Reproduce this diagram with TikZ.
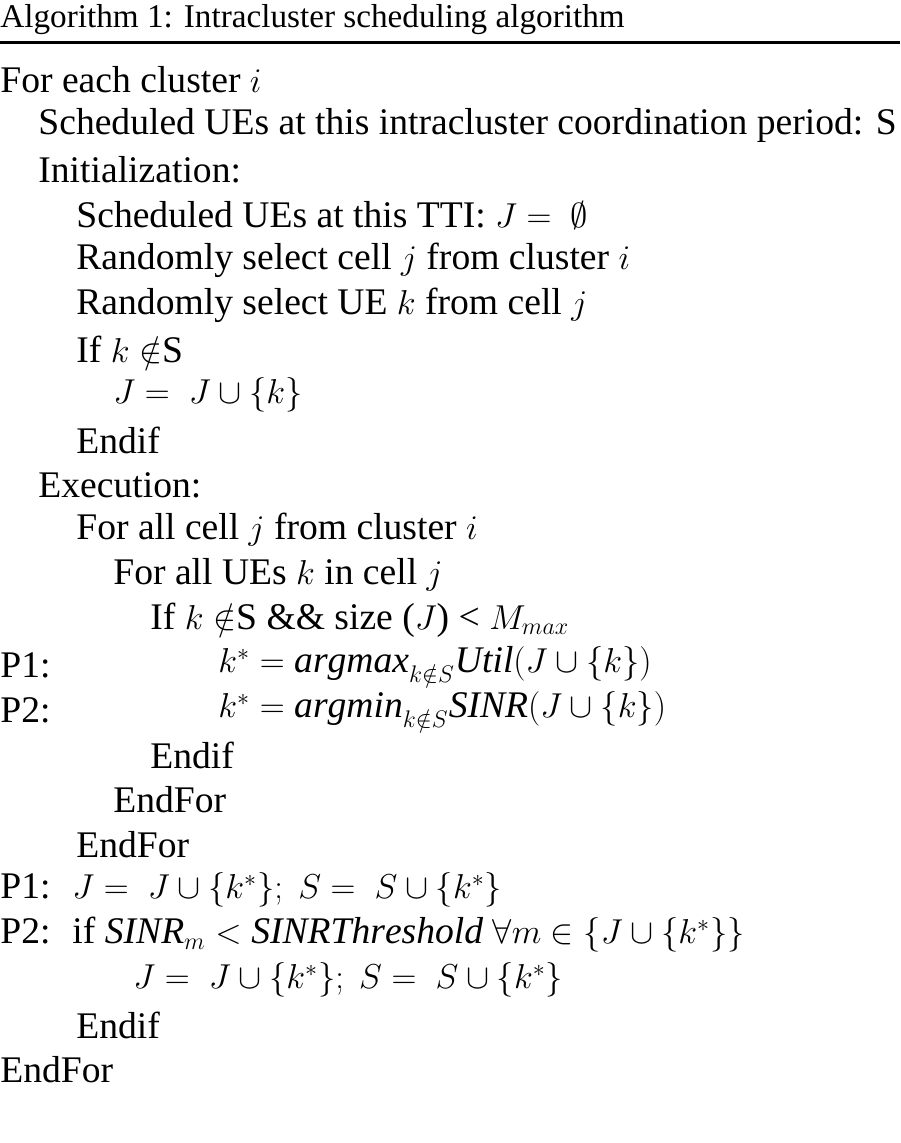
\documentclass[tikz,border=0pt]{standalone}
\usepackage{fontspec}
\setmainfont{Liberation Serif}
\begin{document}
\begin{tikzpicture}[x=0.5pt,y=-0.5pt,
  ln/.style={anchor=west,inner sep=0pt,font=\fontsize{18.8}{20}\selectfont},
  tl/.style={anchor=west,inner sep=0pt,font=\fontsize{16.6}{18}\selectfont}]
\useasboundingbox (0,0) rectangle (900,1143);
\node[tl] (t) at (0,20) {Algorithm 1: Intracluster scheduling algorithm};
\draw[line width=1.5pt] (0,43) -- (900,43);
\node[ln] (l1) at (0,80) {For each cluster $i$};
\node[ln] (l2) at (38,125) {Scheduled UEs at this intracluster coordination period: S};
\node[ln] (l3) at (38,170) {Initialization:};
\node[ln] (l4) at (76,215) {Scheduled UEs at this TTI: $J=\ \emptyset$};
\node[ln] (l5) at (76,260) {Randomly select cell $j$ from cluster $i$};
\node[ln] (l6) at (76,305) {Randomly select UE $k$ from cell $j$};
\node[ln] (l7) at (76,350) {If $k\notin$S};
\node[ln] (l8) at (113,395) {$J=\ J\cup\{k\}$};
\node[ln] (l9) at (76,440) {Endif};
\node[ln] (l10) at (38,485) {Execution:};
\node[ln] (l11) at (76,530) {For all cell $j$ from cluster $i$};
\node[ln] (l12) at (113,575) {For all UEs $k$ in cell $j$};
\node[ln] (l13) at (150,620) {If $k\notin$S \&\& size ($J$) < $M_{max}$};
\node[ln] (p1) at (0,665) {P1:};
\node[ln] (f1) at (218,665) {$k^{*}=\mathit{argmax}_{k\notin S}\mathit{Util}(J\cup\{k\})$};
\node[ln] (p2) at (0,710) {P2:};
\node[ln] (f2) at (218,710) {$k^{*}=\mathit{argmin}_{k\notin S}\mathit{SINR}(J\cup\{k\})$};
\node[ln] (l14) at (150,755) {Endif};
\node[ln] (l15) at (113,800) {EndFor};
\node[ln] (l16) at (76,845) {EndFor};
\node[ln] (l17) at (0,890) {P1: \ $J=\ J\cup\{k^{*}\};\ S=\ S\cup\{k^{*}\}$};
\node[ln] (l18) at (0,935) {P2: \ if $\mathit{SINR}_m<\mathit{SINRThreshold}\ \forall m\in\{J\cup\{k^{*}\}\}$};
\node[ln] (l19) at (133,980) {$J=\ J\cup\{k^{*}\};\ S=\ S\cup\{k^{*}\}$};
\node[ln] (l20) at (76,1025) {Endif};
\node[ln] (l21) at (0,1070) {EndFor};
\end{tikzpicture}
\end{document}
